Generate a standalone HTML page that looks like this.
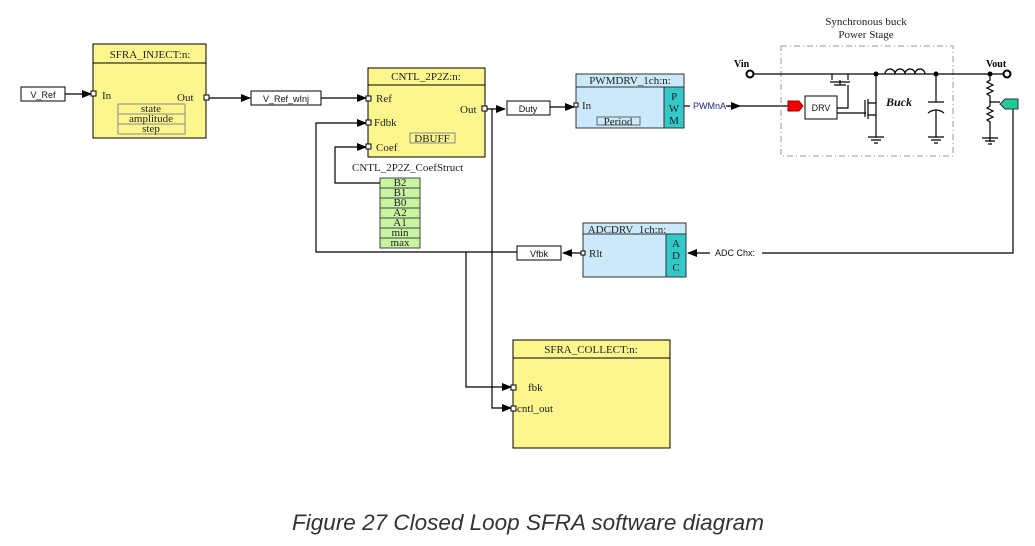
<!DOCTYPE html>
<html><head><meta charset="utf-8"><style>
html,body{margin:0;padding:0;background:#fff;width:1035px;height:546px;overflow:hidden}
svg{display:block}
.s{font-family:"Liberation Serif",serif;font-size:11px;fill:#222}
.a{font-family:"Liberation Sans",sans-serif;font-size:9px;fill:#111}
</style></head><body>
<svg width="1035" height="546" viewBox="0 0 1035 546" xmlns="http://www.w3.org/2000/svg">
<defs><marker id="ar" markerWidth="10" markerHeight="8" refX="9" refY="4" orient="auto" markerUnits="userSpaceOnUse"><path d="M0,0 L10,4 L0,8 z" fill="#000"/></marker></defs>
<g stroke="#000" stroke-width="1.2" fill="none">
<line x1="65" y1="94" x2="91" y2="94" marker-end="url(#ar)"/>
<line x1="208" y1="98" x2="250" y2="98" marker-end="url(#ar)"/>
<line x1="321" y1="98" x2="366" y2="98" marker-end="url(#ar)"/>
<polyline points="517,252 316,252 316,123 366,123" marker-end="url(#ar)"/>
<polyline points="380,183 335,183 335,147 366,147" marker-end="url(#ar)"/>
<line x1="487" y1="109" x2="505" y2="109" marker-end="url(#ar)"/>
<line x1="550" y1="107" x2="574" y2="107" marker-end="url(#ar)"/>
<polyline points="492,109 492,408 511,408" marker-end="url(#ar)"/>
<polyline points="466,252 466,387 511,387" marker-end="url(#ar)"/>
<line x1="581" y1="253" x2="563" y2="253" marker-end="url(#ar)"/>
<line x1="684" y1="106" x2="690" y2="106"/>
<line x1="728" y1="106" x2="788" y2="106"/>
<line x1="726" y1="106" x2="740" y2="106" marker-end="url(#ar)"/>
<line x1="710" y1="253" x2="688" y2="253" marker-end="url(#ar)"/>
<polyline points="762,253 1013,253 1013,104"/>
</g>
<rect x="21" y="87" width="44" height="14" fill="#fff" stroke="#000"/>
<text x="43" y="98" class="a" text-anchor="middle">V_Ref</text>
<rect x="251" y="91" width="70" height="14" fill="#fff" stroke="#000"/>
<text x="286" y="102" class="a" text-anchor="middle">V_Ref_wInj</text>
<rect x="507" y="101" width="43" height="14" fill="#fff" stroke="#000"/>
<text x="528" y="112" class="a" text-anchor="middle">Duty</text>
<rect x="517" y="246" width="44" height="14" fill="#fff" stroke="#000"/>
<text x="539" y="257" class="a" text-anchor="middle">Vfbk</text>
<rect x="93" y="44" width="113" height="94" fill="#fdf68f" stroke="#000"/>
<line x1="93" y1="63" x2="206" y2="63" stroke="#000"/>
<text x="150" y="58" class="s" text-anchor="middle">SFRA_INJECT:n:</text>
<text x="102" y="99" class="s">In</text>
<text x="177" y="101" class="s">Out</text>
<g fill="#fdf68f" stroke="#888"><rect x="118" y="104" width="67" height="10"/><rect x="118" y="114" width="67" height="10"/><rect x="118" y="124" width="67" height="10"/></g>
<text x="151" y="112" class="s" text-anchor="middle" font-size="10">state</text>
<text x="151" y="122" class="s" text-anchor="middle" font-size="10">amplitude</text>
<text x="151" y="132" class="s" text-anchor="middle" font-size="10">step</text>
<rect x="368" y="68" width="117" height="89" fill="#fdf68f" stroke="#000"/>
<line x1="368" y1="85" x2="485" y2="85" stroke="#000"/>
<text x="426" y="80" class="s" text-anchor="middle">CNTL_2P2Z:n:</text>
<text x="376" y="102" class="s">Ref</text>
<text x="374" y="126" class="s">Fdbk</text>
<text x="376" y="151" class="s">Coef</text>
<text x="460" y="113" class="s">Out</text>
<rect x="410" y="133" width="45" height="10" fill="none" stroke="#888"/>
<text x="432" y="142" class="s" text-anchor="middle" font-size="10">DBUFF</text>
<text x="352" y="171" class="s" font-size="10.5">CNTL_2P2Z_CoefStruct</text>
<g fill="#c8f5a0" stroke="#444">
<rect x="380" y="178" width="40" height="10"/><rect x="380" y="188" width="40" height="10"/><rect x="380" y="198" width="40" height="10"/><rect x="380" y="208" width="40" height="10"/><rect x="380" y="218" width="40" height="10"/><rect x="380" y="228" width="40" height="10"/><rect x="380" y="238" width="40" height="10"/></g>
<g font-size="9.5" text-anchor="middle"><text x="400" y="186" class="s">B2</text><text x="400" y="196" class="s">B1</text><text x="400" y="206" class="s">B0</text><text x="400" y="216" class="s">A2</text><text x="400" y="226" class="s">A1</text><text x="400" y="236" class="s">min</text><text x="400" y="246" class="s">max</text></g>
<rect x="576" y="74" width="108" height="54" fill="#cbe9fa" stroke="#333"/>
<line x1="576" y1="87" x2="684" y2="87" stroke="#333"/>
<rect x="664" y="87" width="20" height="41" fill="#33c9c9" stroke="#333"/>
<text x="630" y="84" class="s" text-anchor="middle">PWMDRV_1ch:n:</text>
<text x="582" y="109" class="s">In</text>
<rect x="597" y="117" width="43" height="8" fill="none" stroke="#666"/>
<text x="618" y="125" class="s" text-anchor="middle" font-size="10">Period</text>
<text x="674" y="100" class="s" text-anchor="middle" font-size="10">P</text>
<text x="674" y="112" class="s" text-anchor="middle" font-size="10">W</text>
<text x="674" y="124" class="s" text-anchor="middle" font-size="10">M</text>
<text x="693" y="109" class="a" style="fill:#1a2a7a">PWMnA</text>
<rect x="583" y="223" width="103" height="54" fill="#cbe9fa" stroke="#333"/>
<line x1="583" y1="234" x2="686" y2="234" stroke="#333"/>
<rect x="666" y="234" width="20" height="43" fill="#33c9c9" stroke="#333"/>
<text x="627" y="233" class="s" text-anchor="middle">ADCDRV_1ch:n:</text>
<text x="589" y="257" class="s">Rlt</text>
<text x="676" y="247" class="s" text-anchor="middle" font-size="10">A</text>
<text x="676" y="259" class="s" text-anchor="middle" font-size="10">D</text>
<text x="676" y="271" class="s" text-anchor="middle" font-size="10">C</text>
<text x="715" y="256" class="a">ADC Chx:</text>
<rect x="513" y="340" width="157" height="108" fill="#fdf68f" stroke="#000"/>
<line x1="513" y1="358" x2="670" y2="358" stroke="#000"/>
<text x="591" y="353" class="s" text-anchor="middle">SFRA_COLLECT:n:</text>
<text x="528" y="391" class="s">fbk</text>
<text x="517" y="412" class="s">cntl_out</text>
<g fill="#fff" stroke="#000"><rect x="91" y="91" width="5" height="5"/><rect x="204" y="95" width="5" height="5"/><rect x="366" y="96" width="5" height="5"/><rect x="366" y="120" width="5" height="5"/><rect x="366" y="144" width="5" height="5"/><rect x="482" y="106" width="5" height="5"/><rect x="574" y="103" width="4" height="4"/><rect x="581" y="251" width="4" height="4"/><rect x="511" y="385" width="5" height="5"/><rect x="511" y="406" width="5" height="5"/></g>
<text x="866" y="25" class="s" text-anchor="middle">Synchronous buck</text>
<text x="866" y="38" class="s" text-anchor="middle">Power Stage</text>
<rect x="781" y="46" width="172" height="110" fill="none" stroke="#999" stroke-dasharray="6,3,1,3"/>
<g stroke="#000" stroke-width="1.2" fill="none">
<line x1="754" y1="74" x2="1003" y2="74"/>
<circle cx="750" cy="74" r="3.5" fill="#fff" stroke-width="2"/>
<circle cx="1007" cy="74" r="3.5" fill="#fff" stroke-width="2"/>
<path d="M832,74 v6 M848,74 v6 M830,82 h20 M834,85 h12 M840,85 v-5 M848,85 v23 h-11"/>
<path d="M837,113 h29 M865,100 v17 M868,99 v20 M868,103 h8 M868,115 h8 M876,74 v63"/>
<path d="M885,74 a5,5 0 0 1 10,0 a5,5 0 0 1 10,0 a5,5 0 0 1 10,0 a5,5 0 0 1 10,0"/>
<path d="M936,74 v28 M928,102 h16 M928,113 q8,-6 16,0 M936,110 v27"/>
<path d="M990,74 v6 l-3,2 6,3 -6,3 6,3 -6,3 3,2 v6 h10 M990,100 v6 l-3,2 6,3 -6,3 6,3 -6,3 3,2 v6 v14"/>
<path d="M868,137 h16 M871,140 h10 M874,143 h4 M928,137 h16 M931,140 h10 M934,143 h4 M982,138 h16 M985,141 h10 M988,144 h4"/>
</g>
<g fill="#000"><circle cx="876" cy="74" r="2.5"/><circle cx="936" cy="74" r="2.5"/><circle cx="990" cy="74" r="2.5"/></g>
<rect x="805" y="96" width="32" height="23" fill="#fff" stroke="#000"/>
<text x="821" y="111" class="a" text-anchor="middle">DRV</text>
<polygon points="788,101 799,101 803,106 799,111 788,111" fill="#e00" stroke="#900"/>
<polygon points="1000,104 1005,99 1018,99 1018,109 1005,109" fill="#1ec99a" stroke="#333"/>
<text x="886" y="106" font-family="Liberation Serif,serif" font-size="12" font-weight="bold" font-style="italic" fill="#111">Buck</text>
<text x="734" y="67" font-family="Liberation Serif,serif" font-size="10" font-weight="bold">Vin</text>
<text x="986" y="67" font-family="Liberation Serif,serif" font-size="10" font-weight="bold">Vout</text>
<text x="528" y="530" text-anchor="middle" font-family="Liberation Sans,sans-serif" font-size="22.5" font-style="italic" fill="#333">Figure 27 Closed Loop SFRA software diagram</text>
</svg>
</body></html>
